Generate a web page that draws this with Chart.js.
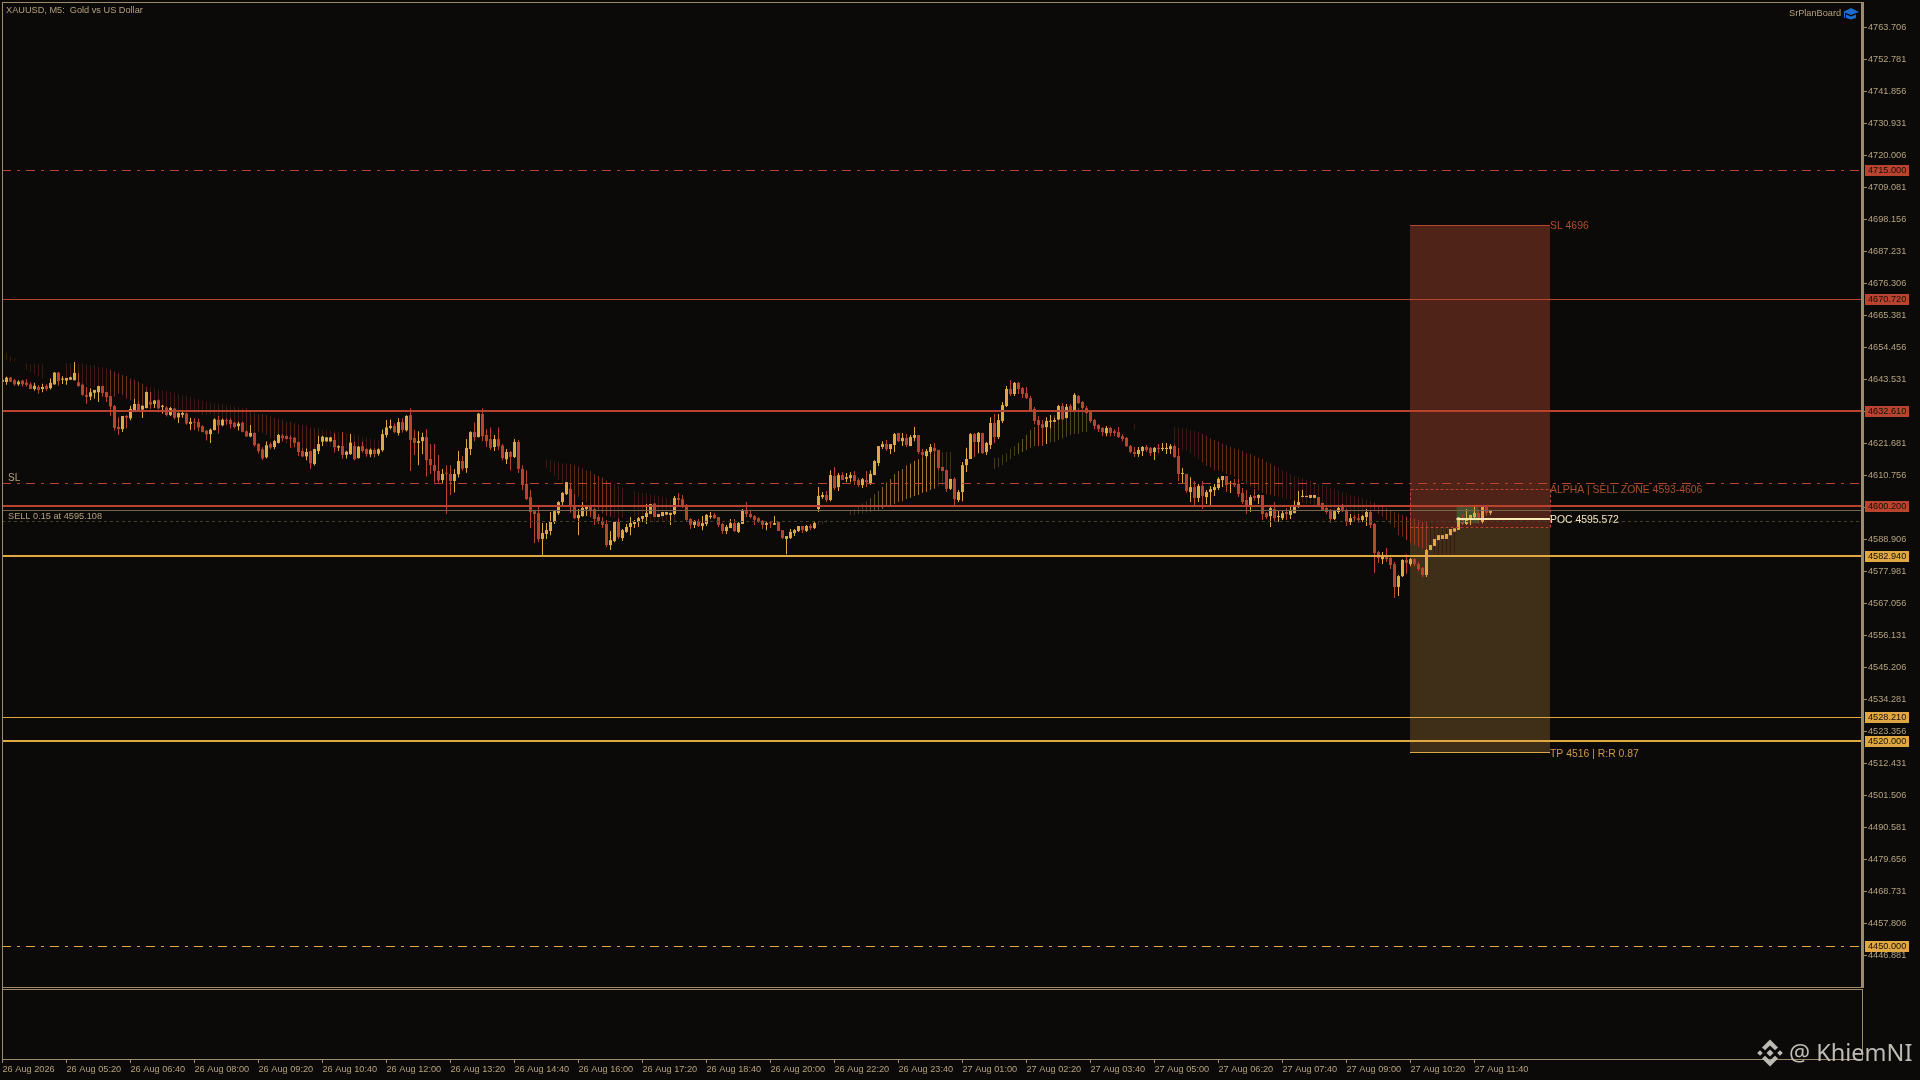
<!DOCTYPE html>
<html>
<head>
<meta charset="utf-8">
<title>XAUUSD M5</title>
<script src="https://cdn.jsdelivr.net/npm/chart.js@4"></script>
<style>
html,body{margin:0;padding:0;background:#0c0a08;overflow:hidden}
canvas{display:block}
</style>
</head>
<body>
<canvas id="c" width="1920" height="1080"></canvas>
<script>
const opens=[
4642.8,4642.7,4644.2,4643.3,4641.9,4643.2,4642.5,4641.9,4640.3,4641.0,
4640.3,4641.4,4640.6,4641.9,4645.9,4643.5,4643.2,4643.5,4643.3,4642.6,
4641.8,4638.3,4637.7,4639.0,4639.2,4641.3,4639.3,4637.9,4634.5,4627.4,
4626.6,4631.1,4630.3,4633.1,4635.2,4633.3,4633.8,4635.9,4635.2,4636.5,
4634.2,4634.0,4631.4,4633.6,4630.6,4631.5,4632.0,4628.4,4629.1,4629.0,
4627.6,4626.1,4624.9,4626.3,4629.8,4627.9,4629.5,4629.7,4628.8,4627.6,
4628.8,4625.9,4624.1,4625.3,4621.6,4619.7,4617.0,4621.5,4620.5,4621.9,
4624.4,4624.3,4623.7,4623.7,4622.2,4619.1,4617.3,4619.1,4614.7,4619.1,
4622.3,4622.4,4622.4,4622.9,4620.3,4620.8,4617.8,4618.1,4620.8,4616.7,
4620.8,4619.8,4618.0,4619.5,4618.2,4619.4,4624.6,4627.0,4627.7,4625.3,
4629.0,4626.2,4631.4,4623.6,4621.9,4622.5,4623.9,4616.4,4614.3,4612.3,
4609.2,4611.7,4611.3,4608.9,4611.2,4615.7,4613.3,4619.8,4625.6,4623.9,
4631.8,4624.6,4623.2,4620.5,4623.2,4621.0,4616.3,4618.8,4617.1,4622.2,
4613.0,4607.9,4603.4,4598.6,4597.9,4589.1,4590.8,4591.8,4594.9,4597.9,
4601.7,4604.4,4606.2,4600.3,4596.2,4596.9,4599.3,4600.3,4599.3,4596.6,
4595.2,4594.2,4587.0,4588.4,4594.9,4589.4,4591.5,4593.2,4594.2,4594.9,
4596.0,4596.6,4597.6,4601.2,4596.6,4596.9,4597.4,4597.3,4597.6,4603.1,
4602.7,4600.3,4595.9,4593.9,4595.2,4593.5,4594.2,4596.6,4597.3,4596.6,
4594.2,4591.8,4592.8,4594.5,4591.5,4594.2,4598.6,4597.6,4596.9,4596.2,
4595.2,4593.9,4594.6,4593.9,4594.9,4592.1,4589.1,4589.4,4591.1,4591.8,
4593.5,4591.8,4593.5,4592.8,4599.3,4603.4,4604.1,4602.4,4610.6,4606.8,
4610.9,4609.6,4609.9,4610.9,4609.2,4607.5,4609.2,4607.9,4610.9,4615.0,
4620.5,4621.5,4619.8,4621.2,4625.3,4622.5,4623.6,4620.8,4623.6,4624.6,
4618.8,4617.4,4618.8,4620.2,4619.5,4613.7,4612.6,4606.2,4609.6,4602.4,
4605.1,4614.3,4616.4,4624.9,4622.2,4625.3,4618.8,4621.2,4628.7,4623.9,
4629.4,4634.5,4640.3,4638.6,4642.4,4640.6,4638.9,4637.2,4633.5,4629.7,
4628.3,4627.3,4629.1,4629.1,4629.9,4634.5,4630.4,4634.5,4633.1,4637.9,
4635.9,4633.8,4632.8,4629.7,4628.0,4627.0,4625.2,4627.0,4625.9,4625.6,
4624.2,4623.6,4620.8,4618.8,4618.1,4619.1,4620.5,4620.2,4618.8,4620.2,
4619.8,4619.8,4619.8,4620.8,4617.4,4611.3,4611.3,4605.1,4606.8,4603.1,
4607.2,4603.4,4605.1,4605.8,4606.5,4609.2,4610.6,4607.9,4608.2,4607.9,
4604.8,4602.4,4600.3,4603.8,4603.1,4604.1,4598.0,4596.9,4599.3,4596.6,
4596.2,4598.3,4597.3,4597.9,4600.0,4603.4,4603.4,4603.1,4603.1,4603.4,
4601.4,4599.7,4598.6,4595.9,4598.3,4600.0,4599.0,4594.9,4596.6,4596.2,
4595.6,4596.6,4598.3,4594.2,4584.6,4582.2,4583.3,4582.6,4580.5,4572.7,
4576.4,4581.9,4580.5,4582.2,4580.5,4579.2,4576.8,4585.3,4586.7,4588.7,
4589.1,4589.1,4590.4,4591.6,4592.2,4595.9,4594.2,4595.6,4596.5,4598.0,4594.9,4600.0,4598.0];
const highs=[
4643.5,4644.5,4644.4,4643.7,4643.3,4643.5,4643.6,4642.6,4642.4,4641.7,
4642.1,4641.9,4643.9,4646.1,4646.1,4644.7,4644.1,4644.5,4649.5,4645.7,
4642.2,4641.0,4640.6,4640.0,4641.4,4641.4,4639.4,4638.1,4634.8,4630.6,
4631.1,4631.4,4634.6,4636.9,4636.2,4634.7,4639.4,4639.3,4636.5,4636.8,
4634.8,4634.5,4634.2,4633.9,4632.3,4632.6,4632.2,4630.5,4630.3,4630.2,
4627.9,4626.3,4626.8,4630.3,4631.1,4630.2,4630.2,4630.3,4629.1,4629.1,
4629.1,4626.2,4628.0,4625.5,4621.7,4620.4,4622.4,4622.1,4622.9,4624.9,
4624.9,4624.4,4624.4,4623.7,4622.3,4620.0,4620.0,4619.2,4619.9,4624.3,
4624.3,4623.8,4623.8,4625.2,4621.1,4625.5,4619.2,4624.9,4622.3,4620.8,
4622.3,4620.0,4620.0,4620.0,4620.0,4626.5,4629.7,4629.9,4628.6,4630.3,
4630.3,4631.3,4633.7,4626.3,4625.9,4625.4,4626.6,4621.5,4621.5,4617.8,
4613.0,4614.3,4614.3,4612.9,4619.1,4617.4,4623.2,4625.9,4628.9,4632.1,
4633.7,4626.6,4627.2,4624.6,4627.2,4621.5,4619.8,4619.1,4623.2,4622.9,
4614.3,4612.6,4605.8,4599.0,4600.1,4594.5,4594.5,4598.3,4598.6,4602.0,
4605.1,4608.5,4608.2,4604.4,4599.3,4601.7,4600.3,4600.7,4599.5,4597.6,
4596.6,4595.6,4591.8,4595.2,4596.2,4592.5,4594.2,4596.6,4595.6,4596.6,
4596.9,4601.0,4601.0,4601.2,4597.6,4598.3,4598.3,4598.0,4603.8,4604.8,
4604.1,4601.0,4596.2,4595.6,4595.9,4596.9,4597.6,4598.3,4598.0,4596.6,
4594.5,4593.9,4595.9,4595.9,4594.9,4599.3,4601.7,4598.6,4597.3,4596.6,
4595.6,4595.2,4595.2,4596.9,4594.9,4592.1,4590.1,4592.5,4592.5,4593.5,
4593.5,4593.9,4594.2,4594.9,4606.8,4605.1,4605.5,4612.6,4613.7,4611.6,
4611.9,4611.6,4611.9,4612.3,4609.9,4609.9,4612.3,4612.6,4616.0,4620.8,
4622.5,4622.9,4621.5,4625.3,4625.3,4625.3,4624.9,4624.6,4627.3,4624.6,
4619.8,4619.8,4621.5,4621.9,4619.5,4613.7,4612.6,4609.6,4610.2,4605.8,
4615.4,4620.2,4625.3,4625.3,4625.6,4625.4,4622.2,4630.7,4631.8,4631.8,
4635.9,4641.3,4643.4,4642.7,4642.7,4641.0,4641.0,4637.9,4634.2,4631.1,
4629.7,4630.7,4631.4,4630.5,4634.8,4635.4,4635.2,4635.2,4638.9,4638.3,
4636.2,4634.5,4633.1,4630.1,4628.3,4627.3,4627.7,4627.3,4626.6,4627.3,
4624.9,4623.9,4621.2,4620.5,4620.5,4620.8,4621.2,4620.5,4620.5,4621.5,
4621.9,4621.9,4621.5,4621.2,4620.2,4613.3,4611.3,4610.2,4608.9,4607.9,
4608.9,4605.8,4607.2,4607.9,4610.2,4610.6,4610.6,4608.9,4609.6,4609.6,
4606.5,4605.8,4604.1,4606.1,4604.4,4604.1,4598.3,4600.3,4601.7,4598.6,
4598.6,4599.6,4600.0,4602.1,4605.5,4605.8,4603.8,4604.1,4604.1,4603.4,
4601.4,4600.0,4599.3,4599.0,4600.0,4601.0,4599.3,4597.6,4597.3,4597.6,
4597.3,4599.3,4599.0,4594.5,4585.0,4584.6,4586.0,4582.9,4581.2,4576.8,
4582.2,4583.9,4582.6,4582.6,4581.2,4579.5,4585.7,4587.0,4589.1,4590.4,
4590.4,4590.8,4592.5,4592.7,4596.5,4597.3,4599.3,4597.3,4600.0,4599.0,4600.0,4600.0,4599.0];
const lows=[
4642.8,4641.8,4642.7,4641.4,4641.4,4641.2,4641.1,4640.2,4639.7,4638.7,
4639.2,4639.6,4640.1,4641.8,4641.4,4642.0,4641.8,4643.4,4643.3,4641.1,
4638.0,4635.3,4636.5,4637.1,4635.9,4637.7,4635.9,4631.1,4626.1,4624.7,
4625.6,4626.9,4629.6,4632.9,4632.6,4630.4,4633.7,4633.6,4633.8,4633.5,
4631.9,4630.9,4631.1,4630.0,4628.7,4630.5,4628.1,4626.3,4626.3,4625.9,
4625.5,4622.7,4621.9,4626.1,4625.0,4627.6,4628.1,4626.8,4626.9,4626.1,
4625.5,4623.9,4623.8,4620.6,4618.3,4616.0,4616.6,4619.7,4619.7,4621.7,
4622.5,4623.2,4620.2,4620.4,4617.4,4617.0,4616.0,4613.0,4614.2,4618.1,
4620.8,4622.4,4622.4,4618.6,4619.1,4616.6,4616.6,4617.8,4616.0,4616.6,
4618.6,4617.2,4617.0,4616.9,4617.5,4618.9,4623.7,4626.5,4625.2,4624.4,
4625.4,4625.8,4612.3,4617.8,4614.3,4618.1,4610.4,4611.3,4608.4,4608.3,
4608.1,4597.6,4604.1,4605.0,4610.1,4612.4,4611.7,4617.8,4622.5,4623.7,
4622.5,4620.5,4619.5,4619.1,4619.5,4616.0,4614.7,4612.6,4616.7,4611.6,
4605.8,4602.4,4592.8,4587.7,4588.0,4583.3,4589.1,4590.4,4594.2,4597.3,
4600.7,4604.1,4598.0,4595.9,4590.4,4596.7,4596.9,4596.6,4593.9,4594.2,
4592.8,4586.3,4585.3,4588.0,4589.1,4588.4,4591.1,4590.4,4592.8,4593.2,
4594.9,4594.2,4597.6,4596.6,4596.6,4596.9,4597.4,4593.9,4597.3,4600.7,
4599.7,4594.9,4592.5,4592.8,4593.2,4592.1,4593.5,4595.9,4595.9,4593.2,
4590.8,4590.8,4592.8,4591.5,4591.1,4594.2,4596.6,4596.2,4593.9,4594.5,
4592.5,4592.1,4592.8,4593.9,4591.8,4589.1,4583.9,4589.1,4590.1,4591.5,
4591.1,4591.5,4592.1,4592.5,4598.3,4602.7,4601.7,4602.0,4605.8,4605.5,
4609.2,4608.5,4608.5,4607.5,4606.8,4606.5,4606.8,4607.5,4610.9,4614.0,
4619.8,4619.1,4618.1,4618.8,4622.2,4620.8,4620.5,4620.8,4622.5,4618.1,
4616.7,4616.7,4618.1,4617.8,4612.6,4612.3,4605.1,4605.8,4600.7,4601.7,
4602.0,4612.0,4616.4,4617.1,4618.4,4618.1,4617.8,4619.8,4621.9,4623.2,
4628.7,4634.2,4637.9,4637.9,4638.6,4637.2,4636.9,4632.5,4628.3,4620.8,
4620.8,4621.5,4626.9,4629.1,4629.7,4629.7,4630.2,4632.5,4632.6,4635.2,
4633.5,4631.8,4628.7,4626.6,4625.6,4624.2,4624.2,4624.2,4624.2,4623.6,
4622.5,4620.5,4618.4,4617.1,4617.1,4617.4,4618.8,4617.4,4616.1,4618.4,
4619.1,4618.1,4618.1,4616.7,4608.9,4607.9,4604.8,4601.7,4600.7,4601.7,
4599.3,4601.0,4600.7,4603.8,4605.8,4606.8,4605.1,4604.8,4606.8,4603.4,
4601.0,4597.6,4598.3,4602.1,4601.0,4595.6,4595.9,4593.2,4594.9,4594.9,
4595.6,4595.6,4595.9,4597.9,4599.7,4603.4,4603.4,4603.1,4603.1,4600.7,
4598.6,4597.6,4594.5,4595.6,4597.6,4598.3,4593.5,4593.9,4594.9,4594.6,
4594.9,4593.5,4592.8,4577.5,4580.9,4580.5,4581.2,4578.8,4568.9,4569.6,
4576.1,4577.1,4579.8,4579.8,4578.1,4576.1,4576.1,4585.3,4586.7,4588.7,
4589.1,4589.1,4590.4,4591.6,4592.2,4593.9,4593.9,4593.9,4595.6,4594.4,4594.4,4597.0,4597.3];
const closes=[
4643.5,4644.2,4642.8,4641.9,4642.8,4641.9,4641.7,4640.3,4641.4,4640.0,
4641.0,4640.3,4642.4,4645.9,4643.0,4643.7,4644.1,4644.3,4645.8,4641.3,
4638.3,4637.6,4639.2,4640.0,4641.3,4638.9,4637.5,4634.3,4627.0,4626.6,
4631.1,4630.5,4633.5,4635.2,4632.8,4634.6,4639.3,4635.0,4636.4,4633.7,
4634.6,4631.4,4633.8,4630.5,4632.1,4632.1,4628.5,4629.1,4628.8,4627.2,
4625.6,4624.8,4626.4,4629.9,4627.9,4629.8,4629.3,4628.3,4627.3,4628.5,
4625.7,4624.1,4625.3,4621.1,4619.1,4616.6,4621.1,4620.3,4622.5,4624.6,
4623.5,4623.2,4623.3,4621.9,4618.8,4617.3,4618.8,4614.9,4619.8,4621.5,
4624.0,4623.8,4623.8,4620.4,4620.8,4617.8,4618.9,4622.0,4616.3,4620.6,
4619.1,4618.1,4619.6,4618.1,4619.7,4624.9,4627.2,4627.7,4625.6,4629.0,
4626.3,4631.1,4622.9,4621.9,4622.5,4623.9,4616.0,4614.3,4612.3,4609.1,
4611.3,4611.4,4608.9,4611.3,4615.7,4613.1,4620.2,4625.6,4623.9,4631.9,
4624.2,4622.5,4620.2,4623.2,4620.7,4616.7,4618.8,4617.1,4622.2,4613.0,
4607.5,4602.7,4598.3,4597.6,4589.0,4591.1,4592.1,4594.9,4598.6,4601.7,
4604.8,4608.5,4600.3,4596.2,4597.3,4599.7,4600.0,4598.6,4595.9,4595.2,
4593.9,4587.0,4588.7,4594.9,4589.8,4592.1,4593.2,4594.5,4594.9,4596.2,
4596.9,4598.0,4601.0,4596.6,4597.6,4598.3,4598.3,4598.0,4603.1,4602.4,
4600.0,4595.6,4593.9,4595.2,4593.5,4594.5,4597.3,4597.0,4596.2,4593.9,
4591.8,4593.2,4594.5,4591.8,4594.5,4599.0,4597.6,4596.6,4595.6,4594.9,
4593.9,4594.5,4594.4,4594.5,4591.8,4589.4,4590.1,4591.5,4592.1,4593.5,
4592.1,4593.5,4592.8,4594.5,4603.8,4604.1,4602.4,4610.9,4606.5,4610.9,
4609.2,4610.2,4610.9,4608.9,4607.5,4609.5,4608.5,4611.3,4615.7,4620.8,
4621.5,4619.8,4621.5,4624.9,4622.5,4623.6,4621.2,4623.9,4624.6,4618.8,
4617.8,4619.1,4620.5,4619.1,4613.3,4612.3,4606.2,4609.6,4602.7,4605.1,
4614.3,4616.4,4624.9,4622.2,4625.3,4618.4,4621.9,4628.7,4623.9,4629.7,
4634.8,4640.3,4638.6,4642.4,4640.3,4638.6,4637.2,4632.8,4629.4,4628.0,
4627.0,4629.4,4629.5,4629.7,4634.5,4629.9,4634.2,4633.1,4638.3,4635.5,
4633.8,4632.1,4629.4,4627.7,4626.6,4625.6,4627.0,4625.3,4625.3,4623.9,
4623.2,4620.8,4618.8,4618.1,4619.5,4620.5,4619.5,4618.4,4620.2,4619.8,
4620.2,4620.2,4620.8,4617.1,4611.3,4611.5,4605.5,4606.8,4603.1,4607.2,
4603.8,4605.1,4606.1,4606.8,4609.6,4610.6,4607.5,4608.2,4607.5,4604.4,
4601.7,4600.3,4603.4,4603.1,4604.1,4597.6,4596.6,4599.6,4596.2,4596.9,
4597.9,4597.6,4599.0,4600.0,4601.7,4603.8,4603.8,4604.1,4604.1,4600.7,
4599.0,4598.3,4595.9,4598.6,4599.7,4599.0,4594.9,4596.2,4596.2,4595.6,
4596.9,4598.3,4593.9,4584.3,4582.6,4583.3,4582.2,4580.2,4572.7,4576.4,
4581.9,4580.9,4582.2,4580.5,4578.8,4576.8,4585.3,4587.0,4589.1,4590.4,
4590.4,4590.8,4592.5,4592.7,4596.5,4594.2,4595.7,4597.3,4598.0,4595.9,4600.0,4598.0,4599.0];

const cloudIndex=[1,2,3,6,7,8,9,10,
16,17,18,19,20,21,22,23,24,25,26,27,28,29,30,31,32,33,34,35,36,37,38,39,40,41,42,43,44,45,46,47,48,49,50,51,52,53,54,55,56,57,58,59,60,61,62,63,64,65,66,67,68,69,70,71,72,73,74,75,76,77,78,79,80,81,82,83,84,85,86,87,88,89,90,91,92,93,94,
136,137,138,139,140,141,142,143,144,145,146,147,148,149,150,151,152,153,154,155,
158,159,160,161,162,163,164,165,166,167,168,204,205,206,
212,213,214,215,216,217,218,219,220,221,222,223,224,225,226,227,228,229,230,231,232,233,234,235,236,237,
248,249,250,251,252,253,254,255,256,257,258,259,260,261,262,263,264,265,266,267,268,269,270,271,283,
293,294,295,296,297,298,299,300,301,302,303,304,305,306,307,308,309,310,311,312,313,314,315,316,317,318,319,320,321,322,323,324,325,326,327,328,329,330,331,332,333,334,335,336,337,338,339,340,341,342,343,344,345,346,347,348,349,350,351,352,353,354,355,356,357,358,359,360,361,362,363];
const cloudUpper=[4652.5,4651.6,4650.6,4649.1,4648.8,4648.8,4648.8,4648.8,
4649.1,4649.1,4649.3,4649.1,4649.1,4648.8,4648.5,4648.4,4647.9,4647.7,4647.4,4647.0,4646.2,4645.7,4645.1,4644.7,4643.9,4643.4,4642.8,4642.2,4641.1,4640.9,4640.5,4640.2,4640.0,4639.7,4639.4,4639.0,4638.6,4638.3,4637.9,4637.5,4637.1,4636.8,4636.3,4636.0,4635.6,4635.4,4635.4,4635.2,4634.8,4634.6,4634.3,4634.3,4633.7,4633.7,4633.1,4632.2,4631.8,4631.8,4631.4,4630.9,4630.3,4630.0,4629.9,4629.1,4629.1,4628.6,4628.2,4627.9,4627.7,4627.1,4626.9,4626.9,4626.5,4626.3,4626.3,4626.1,4625.7,4625.5,4625.2,4624.9,4624.8,4624.6,4624.0,4623.8,4623.4,4623.1,4622.9,
4616.3,4616.1,4615.7,4615.5,4614.9,4614.9,4614.7,4614.3,4613.8,4613.2,4612.6,4612.3,4611.2,4610.6,4610.1,4609.0,4608.4,4607.9,4607.3,4606.4,
4605.5,4605.1,4604.9,4604.7,4604.4,4604.1,4603.8,4603.3,4603.2,4602.7,4602.4,4595.2,4595.2,4595.6,
4598.8,4599.3,4600.1,4601.3,4602.0,4603.0,4604.4,4605.5,4606.9,4608.4,4609.6,4611.2,4612.3,4613.0,4614.3,4614.9,4615.7,4616.3,4617.2,4617.8,4618.0,4618.3,4618.6,4618.6,4618.7,4618.8,
4616.7,4616.8,4617.8,4618.3,4619.8,4620.8,4621.9,4623.2,4624.6,4626.3,4627.3,4628.3,4628.8,4629.5,4630.9,4631.4,4632.0,4632.6,4633.1,4633.4,4633.7,4633.9,4634.0,4634.0,4628.4,
4627.4,4626.9,4626.9,4626.9,4626.3,4626.0,4625.5,4624.9,4624.3,4623.5,4622.9,4622.3,4621.5,4621.2,4620.6,4620.0,4619.7,4619.1,4618.3,4618.1,4617.5,4616.8,4616.4,4615.5,4614.9,4614.0,4613.4,4612.6,4612.1,4611.3,4610.7,4610.2,4609.8,4609.4,4608.9,4608.3,4607.9,4607.5,4607.2,4606.6,4606.1,4605.6,4605.1,4604.7,4604.1,4603.8,4603.3,4603.0,4602.6,4602.2,4601.5,4600.7,4600.1,4599.6,4598.7,4598.4,4597.8,4597.3,4596.7,4596.1,4596.1,4595.6,4595.0,4595.0,4594.9,4594.4,4593.3,4593.3,4593.3,4593.3,4592.7];
const cloudLower=[4650.0,4649.6,4649.6,4647.0,4646.1,4645.3,4644.7,4643.9,
4642.5,4643.4,4643.4,4641.7,4641.7,4641.7,4641.1,4641.1,4640.0,4640.0,4639.4,4638.3,4637.7,4638.8,4638.3,4637.1,4636.5,4635.4,4634.8,4634.8,4634.3,4633.1,4633.7,4632.0,4631.8,4631.4,4631.4,4631.1,4631.4,4631.4,4632.2,4632.6,4632.2,4632.0,4631.4,4631.4,4631.8,4630.9,4630.9,4630.3,4630.0,4629.7,4628.6,4628.6,4629.1,4625.2,4625.7,4624.6,4625.7,4625.2,4624.6,4623.5,4622.9,4621.7,4622.3,4621.7,4620.6,4620.6,4620.0,4619.5,4619.1,4618.3,4620.0,4620.6,4620.6,4620.6,4620.6,4620.0,4621.2,4620.4,4620.0,4620.0,4619.5,4620.6,4620.0,4619.5,4620.0,4619.5,4619.5,
4613.3,4612.0,4610.6,4609.2,4607.9,4606.4,4604.9,4603.8,4603.5,4602.4,4601.6,4600.7,4599.5,4598.8,4597.8,4597.0,4596.7,4596.3,4596.3,4596.3,
4596.1,4595.9,4595.8,4595.6,4595.0,4595.0,4595.0,4595.0,4595.0,4595.0,4595.0,4593.9,4594.2,4594.6,
4597.3,4597.3,4597.6,4597.8,4598.1,4598.4,4598.8,4599.0,4599.3,4600.7,4600.7,4601.0,4601.7,4602.0,4602.7,4603.2,4603.8,4604.1,4604.9,4605.1,4605.8,4606.2,4607.0,4607.3,4607.8,4609.6,
4613.0,4613.6,4614.3,4615.4,4616.3,4617.4,4618.1,4618.8,4619.5,4620.2,4620.8,4620.8,4621.2,4621.5,4622.0,4622.2,4622.9,4623.5,4624.0,4624.6,4624.9,4624.9,4625.5,4625.6,4626.3,
4620.4,4620.0,4619.5,4619.2,4618.3,4617.2,4616.3,4615.3,4614.0,4613.6,4612.6,4612.6,4612.1,4611.3,4610.9,4610.4,4609.5,4608.9,4607.9,4607.0,4606.4,4605.6,4604.9,4604.4,4604.1,4603.8,4603.5,4603.1,4602.7,4602.4,4602.1,4602.4,4601.5,4601.0,4601.0,4600.3,4600.7,4601.0,4600.1,4599.6,4599.0,4599.8,4599.0,4598.4,4597.8,4597.3,4596.7,4596.7,4596.7,4593.5,4599.0,4597.6,4596.7,4595.6,4594.2,4593.0,4590.4,4589.9,4588.7,4587.8,4587.0,4586.5,4585.9,4584.8,4585.3,4584.2,4583.6,4583.6,4583.6,4583.6,4583.6];

const yTicks=[4763.706,4752.781,4741.856,4730.931,4720.006,4709.081,4698.156,4687.231,4676.306,4665.381,4654.456,4643.531,4632.606,4621.681,4610.756,4599.831,4588.906,4577.981,4567.056,4556.131,4545.206,4534.281,4523.356,4512.431,4501.506,4490.581,4479.656,4468.731,4457.806,4446.881];
const timeLabels=["26 Aug 2026","26 Aug 05:20","26 Aug 06:40","26 Aug 08:00","26 Aug 09:20","26 Aug 10:40","26 Aug 12:00","26 Aug 13:20","26 Aug 14:40","26 Aug 16:00","26 Aug 17:20","26 Aug 18:40","26 Aug 20:00","26 Aug 22:20","26 Aug 23:40","27 Aug 01:00","27 Aug 02:20","27 Aug 03:40","27 Aug 05:00","27 Aug 06:20","27 Aug 07:40","27 Aug 09:00","27 Aug 10:20","27 Aug 11:40"];
const barsPerLabel=16;

const redLevels=[4715.000,4670.720,4632.610,4600.200];
const orangeLevels=[4582.940,4528.210,4520.000,4450.000];
const slLine=4608.1, greyLine=4598.9, tradeLine=4595.108;
const slPrice=4696, entryPrice=4593, sellZoneTop=4606, tpPrice=4516, pocPrice=4595.572;
const zoneFirstBar=352, zoneLastBar=387, pocFirstBar=364;

const C_BG='#0c0a08',C_FRAME='#9c8c6c',C_TEXT='#b4a27e',C_RED='#b8432e',C_OR='#dfa843';
const cloudTones=[[0,15,'#3a1a10'],[16,26,'#3c1b10'],[27,36,'#74301f'],[37,60,'#381a10'],[61,79,'#4e2115'],[80,94,'#361a10'],
[136,141,'#3e1c12'],[142,147,'#5e2818'],[148,152,'#7c2f1e'],[153,155,'#3e1c12'],[158,168,'#3a1a10'],
[204,206,'#3c3018'],[212,216,'#40361c'],[217,219,'#5c4c24'],[220,226,'#8a6428'],[227,233,'#a87830'],[234,237,'#40301a'],
[248,253,'#463a1c'],[254,260,'#6a5426'],[261,271,'#544620'],[283,283,'#3a1a10'],
[293,299,'#3a1a10'],[300,318,'#6a2a1a'],[319,330,'#3c1c12'],[331,342,'#3a1a10'],[343,350,'#6a2a1a'],[351,356,'#9a3a24'],[357,363,'#3a1a10']];

const isUp=i=>closes[i]>=opens[i];
const candleColor=c=>isUp(c.dataIndex)?C_OR:C_RED;
const cloudColor=c=>{const k=cloudIndex[c.dataIndex];const t=cloudTones.find(r=>k>=r[0]&&k<=r[1]);return t?t[2]:'#3a1a10'};

const font=(s,w)=>(w||'')+' '+s+'px "Liberation Sans", Arial, sans-serif';
function label(ctx,t,x,y,col,size,align){ctx.fillStyle=col;ctx.font=font(size||9.2);ctx.textAlign=align||'left';ctx.textBaseline='middle';ctx.fillText(t,x,y)}

const overlay={
 id:'overlay',
 beforeDraw(ch){const c=ch.ctx;c.save();c.fillStyle=C_BG;c.fillRect(0,0,1920,1080);c.restore()},
 beforeDatasetsDraw(ch){
  const c=ch.ctx,x=ch.scales.x,y=ch.scales.y,l=x.getPixelForValue(zoneFirstBar)-0.5,r=x.getPixelForValue(zoneLastBar)-0.5;
  const ys=y.getPixelForValue(slPrice),ye=y.getPixelForValue(entryPrice),yt=y.getPixelForValue(tpPrice);
  c.save();
  c.fillStyle='#4f2317';c.fillRect(l,ys,r-l,ye-ys);
  c.fillStyle='#402f18';c.fillRect(l,ye,r-l,yt-ye);
  c.fillStyle='#46502e';
  c.fillRect(x.getPixelForValue(pocFirstBar)-2,y.getPixelForValue(4600.0),22,y.getPixelForValue(4594.5)-y.getPixelForValue(4600.0));
  c.restore();
 },
 afterDatasetsDraw(ch){
  const c=ch.ctx,x=ch.scales.x,y=ch.scales.y,L=ch.chartArea.left,R=ch.chartArea.right;
  const yy=p=>Math.floor(y.getPixelForValue(p));
  const zl=x.getPixelForValue(zoneFirstBar)-0.5,zr=x.getPixelForValue(zoneLastBar)-0.5;
  c.save();
  const hl=(p,col,w,dash)=>{c.strokeStyle=col;c.lineWidth=w;c.setLineDash(dash||[]);c.beginPath();const v=yy(p)+(w%2?0.5:0);c.moveTo(L,v);c.lineTo(R,v);c.stroke();c.setLineDash([])};
  const DD=[9,6,3,6];
  hl(redLevels[0],C_RED,1,DD);hl(redLevels[1],C_RED,1);hl(redLevels[2],C_RED,2);hl(redLevels[3],C_RED,2);
  hl(slLine,C_RED,1,DD);hl(greyLine,'#75654a',1);hl(tradeLine,'#45402a',1,[3,3]);
  hl(orangeLevels[0],C_OR,2);hl(orangeLevels[1],C_OR,1);hl(orangeLevels[2],C_OR,2);hl(orangeLevels[3],C_OR,1,DD);
  // zone outlines
  c.strokeStyle=C_RED;c.lineWidth=1;
  c.beginPath();c.moveTo(zl,yy(slPrice)+.5);c.lineTo(zr,yy(slPrice)+.5);c.stroke();
  c.strokeStyle=C_OR;
  c.beginPath();c.moveTo(zl,yy(tpPrice)+.5);c.lineTo(zr,yy(tpPrice)+.5);c.stroke();
  c.strokeStyle=C_RED;c.setLineDash([3,2]);
  c.strokeRect(zl+.5,yy(sellZoneTop)+.5,zr-zl,yy(entryPrice)-yy(sellZoneTop));
  c.setLineDash([]);
  // POC
  c.strokeStyle='#f8e8b4';c.lineWidth=2;
  c.beginPath();c.moveTo(x.getPixelForValue(pocFirstBar)-2,yy(pocPrice));c.lineTo(zr,yy(pocPrice));c.stroke();
  c.restore();
 },
 afterDraw(ch){
  const c=ch.ctx,y=ch.scales.y;
  c.save();
  // frames
  c.fillStyle=C_FRAME;
  c.fillRect(2,2,1861,1);c.fillRect(2,2,1,1057);
  c.fillRect(1861,2,3,986);c.fillRect(2,987,1861,1);
  c.fillRect(2,989,1861,1);c.fillRect(1862,989,1,71);c.fillRect(2,1059,1861,1);
  // texts
  label(c,'XAUUSD, M5:  Gold vs US Dollar',6,10,C_TEXT);
  label(c,'SrPlanBoard',1789,13.5,C_TEXT);
  label(c,'SL',8,478,C_TEXT,10);
  label(c,'SELL 0.15 at 4595.108',8,516,C_TEXT);
  label(c,'SL 4696',1550,226.5,'#b0502e',10.4);
  label(c,'ALPHA | SELL ZONE 4593-4606',1550,490.5,'#a8502f',10.4);
  label(c,'POC 4595.572',1550,520.5,'#f4e6c0',10.4);
  label(c,'TP 4516 | R:R 0.87',1550,754.5,'#d09a48',10.4);
  // hat icon
  c.fillStyle='#1c6cd0';
  c.beginPath();c.moveTo(1851,8);c.lineTo(1859,12);c.lineTo(1851,15);c.lineTo(1843,12);c.closePath();c.fill();
  c.beginPath();c.moveTo(1846,14.5);c.lineTo(1851,16.5);c.lineTo(1856,14.5);c.lineTo(1856,18);c.lineTo(1851,19.5);c.lineTo(1846,18);c.closePath();c.fill();
  c.fillRect(1844,12,1,6);
  // price badges
  const badge=(p,bg)=>{const v=Math.floor(y.getPixelForValue(p));c.fillStyle=bg;c.fillRect(1865,v-5,44,11);label(c,p.toFixed(3),1868,v+.5,'#14100a');};
  redLevels.forEach(p=>badge(p,C_RED));orangeLevels.forEach(p=>badge(p,C_OR));
  // watermark
  c.fillStyle='#bcbcb4';
  const dia=(cx,cy,r)=>{c.beginPath();c.moveTo(cx,cy-r);c.lineTo(cx+r,cy);c.lineTo(cx,cy+r);c.lineTo(cx-r,cy);c.closePath();c.fill()};
  const cx=1770,cy=1053;
  dia(cx,cy,3.5);dia(cx-10,cy,2.8);dia(cx+10,cy,2.8);
  c.beginPath();c.moveTo(cx,cy-13.5);c.lineTo(cx+8,cy-5.5);c.lineTo(cx+5,cy-2.8);c.lineTo(cx,cy-7.5);c.lineTo(cx-5,cy-2.8);c.lineTo(cx-8,cy-5.5);c.closePath();c.fill();
  c.beginPath();c.moveTo(cx,cy+13.5);c.lineTo(cx+8,cy+5.5);c.lineTo(cx+5,cy+2.8);c.lineTo(cx,cy+7.5);c.lineTo(cx-5,cy+2.8);c.lineTo(cx-8,cy+5.5);c.closePath();c.fill();
  c.fillStyle='#bcbcb4';c.font='23.5px "Noto Sans", sans-serif';c.textAlign='left';c.textBaseline='middle';
  c.fillText('@ KhiemNI',1789,1054);
  c.restore();
 }
};

new Chart(document.getElementById('c'),{
 type:'bar',
 data:{datasets:[
  {label:'Cloud',order:3,barThickness:1,backgroundColor:cloudColor,
   data:cloudIndex.map((k,i)=>({x:k,y:[cloudLower[i],cloudUpper[i]]}))},
  {label:'Wicks',order:2,barThickness:1,backgroundColor:candleColor,
   data:opens.map((_,i)=>({x:i,y:[lows[i],highs[i]]}))},
  {label:'Bodies',order:1,barThickness:3,minBarLength:1,backgroundColor:candleColor,
   data:opens.map((o,i)=>({x:i,y:[o,closes[i]]}))}
 ]},
 plugins:[overlay],
 options:{
  responsive:false,animation:false,devicePixelRatio:1,
  layout:{autoPadding:false,padding:{left:2,top:2,right:0,bottom:0}},
  plugins:{legend:{display:false},tooltip:{enabled:false},title:{display:false}},
  datasets:{bar:{grouped:false,borderWidth:0,inflateAmount:0}},
  scales:{
   x:{type:'linear',position:'bottom',min:-0.125,max:464.875,offset:false,
    grid:{offset:false,drawOnChartArea:false,drawTicks:true,tickLength:4,color:C_FRAME,tickColor:C_FRAME},border:{display:false},
    afterBuildTicks(s){s.ticks=timeLabels.map((_,i)=>({value:i*barsPerLabel}))},
    afterFit(s){s.height=21;s.paddingLeft=0;s.paddingRight=0},
    ticks:{autoSkip:false,maxRotation:0,minRotation:0,align:'start',padding:1,color:C_TEXT,font:{family:'"Liberation Sans", Arial, sans-serif',size:9.2},
     callback:v=>timeLabels[Math.round(v/barsPerLabel)]}},
   y:{type:'linear',position:'right',min:4411.48,max:4772.48,
    grid:{drawOnChartArea:false,drawTicks:true,tickLength:5,color:C_FRAME,tickColor:C_FRAME},border:{display:false},
    afterBuildTicks(s){s.ticks=yTicks.map(v=>({value:v}))},
    afterFit(s){s.width=58;s.paddingTop=0;s.paddingBottom=0},
    ticks:{autoSkip:false,padding:1,color:C_TEXT,font:{family:'"Liberation Sans", Arial, sans-serif',size:9.2},
     callback:v=>v.toFixed(3)}}
  }
 }
});
</script>
</body>
</html>
